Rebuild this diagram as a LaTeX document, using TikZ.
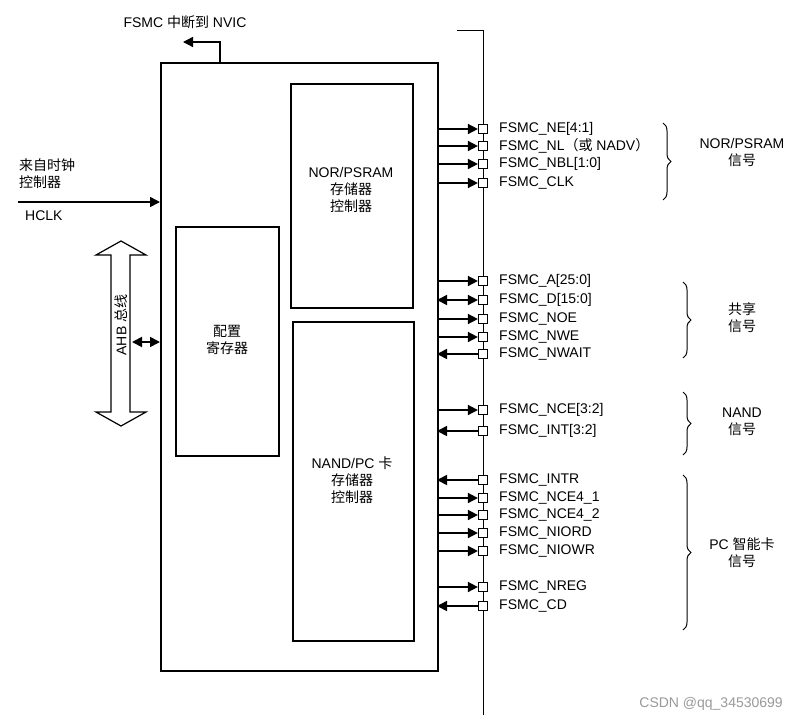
\documentclass[tikz,border=0pt]{standalone}
\usepackage{fontspec}
\setmainfont{Liberation Sans}
\newfontfamily\cjk{Noto Sans CJK SC}
\usetikzlibrary{arrows.meta,decorations.pathreplacing}
\begin{document}
\begin{tikzpicture}[x=1pt,y=-1pt,
  txt/.style={font=\fontsize{14}{17}\selectfont,inner sep=0pt},
  ctxt/.style={txt,align=center},
  sq/.style={draw,fill=white,minimum size=9pt,inner sep=0pt,line width=1.2pt},
  sig/.style={line width=1.6pt},
  tip/.style={-{Triangle[length=10pt,width=10pt]}},
  dtip/.style={{Triangle[length=10pt,width=10pt]}-{Triangle[length=10pt,width=10pt]}},
  brc/.style={decorate,decoration={brace,amplitude=8pt},line width=1pt}]
\useasboundingbox (0,0) rectangle (797,723);
% main box
\node[draw,line width=2.4pt,minimum width=277pt,minimum height=608pt,anchor=north west,inner sep=0pt] (main) at (160,62) {};
\node[draw,line width=2pt,minimum width=103pt,minimum height=229pt,anchor=north west] (cfg) at (175,226) {};
\node[ctxt] at (227,340) {\cjk 配置\\\cjk 寄存器};
\node[draw,line width=2pt,minimum width=122pt,minimum height=224pt,anchor=north west] (nor) at (290,83) {};
\node[ctxt] at (351,190) {NOR/PSRAM\\\cjk 存储器\\\cjk 控制器};
\node[draw,line width=2pt,minimum width=121pt,minimum height=319pt,anchor=north west] (nand) at (292,321) {};
\node[ctxt] at (352,480) {NAND/PC {\cjk 卡}\\\cjk 存储器\\\cjk 控制器};
% NVIC
\coordinate (nv1) at (220,62);
\coordinate (nv2) at (220,42);
\coordinate (nv3) at (183,42);
\draw[line width=1.4pt,tip] (nv1) -- (nv2) -- (nv3);
\node[txt] (nvt) at (185,22) {FSMC {\cjk 中断到} NVIC};
% HCLK
\coordinate (hc) at (18,202);
\draw[line width=1.6pt,tip] (hc) -- (160,202);
\node[txt,anchor=west,align=left] (clk) at (19,174) {\cjk 来自时钟\\\cjk 控制器};
\node[txt,anchor=west] (hclk) at (25,216) {HCLK};
% AHB bus
\draw[line width=1.2pt,fill=white] (111,255) -- (96,255) -- (121,241) -- (146,255) -- (130,255)
  -- (130,412) -- (146,412) -- (121,426) -- (96,412) -- (111,412) -- cycle;
\node[txt,rotate=90] (ahb) at (121,325) {AHB {\cjk 总线}};
\draw[line width=1.8pt,dtip] (132,342) -- (160,342);
% bus line
\coordinate (bt) at (483,30);
\coordinate (bb) at (483,715);
\coordinate (btl) at (457,30);
\draw[line width=1pt] (btl) -- (bt) -- (bb);
% signals
\foreach \y/\t/\d [count=\i] in {
 129/{FSMC\_NE[4:1]}/r, 146/{FSMC\_NL{\cjk （或} NADV{\cjk ）}}/r, 164/{FSMC\_NBL[1:0]}/r, 183/{FSMC\_CLK}/r,
 281/{FSMC\_A[25:0]}/r, 300/{FSMC\_D[15:0]}/b, 319/{FSMC\_NOE}/r, 337/{FSMC\_NWE}/r, 354/{FSMC\_NWAIT}/l,
 410/{FSMC\_NCE[3:2]}/r, 431/{FSMC\_INT[3:2]}/l,
 480/{FSMC\_INTR}/l, 498/{FSMC\_NCE4\_1}/r, 515/{FSMC\_NCE4\_2}/r, 533/{FSMC\_NIORD}/r, 551/{FSMC\_NIOWR}/r,
 587/{FSMC\_NREG}/r, 606/{FSMC\_CD}/l} {
  \node[sq] (s\i) at (483,\y) {};
  \coordinate (c\i) at (437,\y);
  \node[txt,anchor=west] (t\i) at (499,\y) {\t};
  \if r\d \draw[sig,tip] (c\i) -- (s\i.west); \fi
  \if l\d \draw[sig,tip] (s\i.west) -- (c\i); \fi
  \if b\d \draw[sig,dtip] (c\i) -- (s\i.west); \fi
}
% braces
\draw[brc] (663,123) -- (663,200);
\node[ctxt] (g1) at (742,153) {NOR/PSRAM\\\cjk 信号};
\draw[brc] (683,282) -- (683,358);
\node[ctxt] (g2) at (742,318) {\cjk 共享\\\cjk 信号};
\draw[brc] (683,392) -- (683,455);
\node[ctxt] (g3) at (742,422) {NAND\\\cjk 信号};
\draw[brc] (683,475) -- (683,630);
\node[ctxt] (g4) at (742,553) {PC {\cjk 智能卡}\\\cjk 信号};
\node[txt,text=gray!80,anchor=east] (wm) at (783,704) {CSDN @qq\_34530699};
\end{tikzpicture}
\end{document}
